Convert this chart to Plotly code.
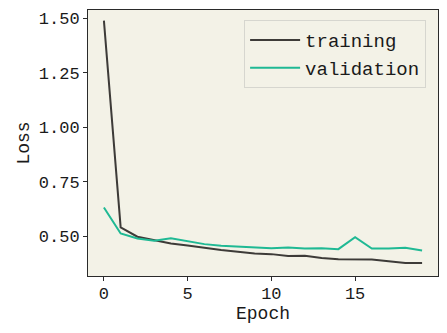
import plotly.graph_objects as go

epochs = list(range(20))
training_loss = [1.49, 0.540, 0.497, 0.482, 0.466, 0.457, 0.446, 0.436, 0.428, 0.420,
                 0.417, 0.408, 0.410, 0.399, 0.394, 0.393, 0.392, 0.384, 0.376, 0.376]
validation_loss = [0.631, 0.512, 0.489, 0.479, 0.490, 0.477, 0.463, 0.455, 0.451, 0.446,
                   0.444, 0.448, 0.443, 0.444, 0.440, 0.495, 0.443, 0.443, 0.446, 0.434]
y_ticks = [0.50, 0.75, 1.00, 1.25, 1.50]
x_ticks = [0, 5, 10, 15]

FONT = "Liberation Mono, Courier New, monospace"
AXIS_COLOR = "#2a2a2a"
TEXT_COLOR = "#1a1a1a"

fig = go.Figure()
fig.add_trace(go.Scatter(x=epochs, y=training_loss, mode="lines", name="training",
                         line=dict(color="#3d3b38", width=2)))
fig.add_trace(go.Scatter(x=epochs, y=validation_loss, mode="lines", name="validation",
                         line=dict(color="#1fb994", width=2)))

axis_common = dict(
    showline=True, linecolor=AXIS_COLOR, linewidth=1, mirror=True,
    ticks="outside", ticklen=4, tickwidth=1, tickcolor=AXIS_COLOR,
    showgrid=False, zeroline=False,
    tickfont=dict(family=FONT, size=17, color=TEXT_COLOR),
    title_font=dict(family=FONT, size=18, color=TEXT_COLOR),
)

fig.update_xaxes(range=[-0.95, 19.95], tickvals=x_ticks, title_text="Epoch",
                 title_standoff=0, ticklabelstandoff=-2, **axis_common)
fig.update_yaxes(range=[0.3165, 1.539], tickvals=y_ticks, tickformat=".2f",
                 title_text="Loss", title_standoff=4, **axis_common)

fig.update_layout(
    width=447, height=333,
    margin=dict(l=88, r=9, t=10, b=57),
    paper_bgcolor="white",
    plot_bgcolor="#f3f2e7",
    showlegend=True,
    legend=dict(
        x=0.966, y=0.962, xanchor="right", yanchor="top",
        bgcolor="rgba(243,242,231,0.9)", bordercolor="#d6d6cf", borderwidth=1,
        font=dict(family=FONT, size=19, color=TEXT_COLOR),
        itemwidth=50,
        tracegroupgap=0,
    ),
)

fig.write_html("out.html")
